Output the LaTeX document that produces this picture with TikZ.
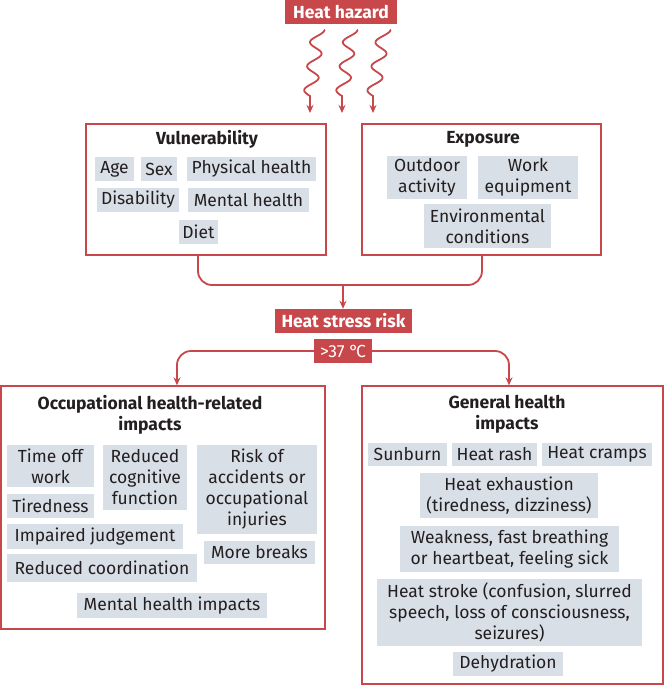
\documentclass[tikz,border=0pt]{standalone}
\usepackage{fontspec}
\setmainfont{Fira Sans}
\usetikzlibrary{arrows.meta,calc}
\definecolor{nred}{HTML}{C8474B}
\definecolor{tagc}{HTML}{D9DFE7}
\definecolor{txt}{HTML}{231F20}
\tikzset{
  tag/.style={fill=tagc, inner sep=0pt, align=center, text=txt, font=\fontsize{17.5}{21}\selectfont},
  bigbox/.style={draw=nred, line width=1.3pt, inner sep=0pt},
  title/.style={align=center, text=txt, font=\bfseries\fontsize{17.5}{21}\selectfont},
  redlab/.style={fill=nred, text=white, inner sep=0pt, font=\bfseries\fontsize{17.5}{20}\selectfont},
  redtemp/.style={fill=nred, text=white, inner sep=0pt, font=\fontsize{17.5}{20}\selectfont},
  conn/.style={draw=nred, line width=1.8pt, -{Stealth[length=8pt,width=7pt]}},
  link/.style={draw=nred, line width=1.8pt},
}
\begin{document}
\begin{tikzpicture}[x=1pt,y=-1pt]
\useasboundingbox (0,0) rectangle (664,685);

% top
\node[redlab, minimum width=112, minimum height=24] (hh) at (341,12) {Heat hazard};
\foreach \xa/\xb [count=\i] in {318/310, 351/342, 384/373}{
  \coordinate (w\i) at (\xb,113);
  \draw[conn, line cap=round] plot[domain=0:66, samples=90, smooth]
     ({\xa + (\xb-\xa)*\x/66 + 6.5*cos(15*\x)}, {30+\x}) -- (w\i);
}

% big boxes
\node[bigbox, minimum width=240, minimum height=131] (vul) at (206,189.5) {};
\node[bigbox, minimum width=239, minimum height=131] (exp) at (481.5,189.5) {};
\node[bigbox, minimum width=324, minimum height=243] (occ) at (163,507.5) {};
\node[bigbox, minimum width=301, minimum height=298] (gen) at (512.5,535) {};

% titles
\node[title] (tv) at (207,139) {Vulnerability};
\node[title] (te) at (483,139) {Exposure};
\node[title] (to) at (150,414.5) {Occupational health-related\\impacts};
\node[title] (tg) at (507,414.5) {General health\\impacts};

% vulnerability tags
\node[tag, minimum width=39, minimum height=24] (age) at (114.5,169) {Age};
\node[tag, minimum width=36, minimum height=24] (sex) at (159,169) {Sex};
\node[tag, minimum width=129, minimum height=24] (phys) at (251.5,169) {Physical health};
\node[tag, minimum width=82, minimum height=24] (dis) at (138,200) {Disability};
\node[tag, minimum width=121, minimum height=24] (mh) at (248.5,200) {Mental health};
\node[tag, minimum width=39, minimum height=24] (diet) at (198.5,232) {Diet};

% exposure tags
\node[tag, minimum width=80, minimum height=43] (out) at (427,177.5) {Outdoor\\activity};
\node[tag, minimum width=100, minimum height=43] (work) at (528,177.5) {Work\\equipment};
\node[tag, minimum width=127, minimum height=44] (env) at (487.5,226) {Environmental\\conditions};

% occupational tags
\node[tag, minimum width=87, minimum height=42] (toff) at (50.5,466) {Time off\\work};
\node[tag, minimum width=84, minimum height=65] (cog) at (145,477.5) {Reduced\\cognitive\\function};
\node[tag, minimum width=120, minimum height=89] (risk) at (257,489.5) {Risk of\\accidents or\\occupational\\injuries};
\node[tag, minimum width=87, minimum height=24] (tired) at (50.5,506) {Tiredness};
\node[tag, minimum width=176, minimum height=25] (imp) at (95,536.5) {Impaired judgement};
\node[tag, minimum width=111, minimum height=23] (brk) at (259.5,552.5) {More breaks};
\node[tag, minimum width=190, minimum height=28] (coord) at (102,568) {Reduced coordination};
\node[tag, minimum width=190, minimum height=25] (mhi) at (172,605.5) {Mental health impacts};

% general tags
\node[tag, minimum width=79, minimum height=23] (sun) at (407.5,454.5) {Sunburn};
\node[tag, minimum width=85, minimum height=23] (rash) at (494.5,454.5) {Heat rash};
\node[tag, minimum width=110, minimum height=23] (cramp) at (597,454.5) {Heat cramps};
\node[tag, minimum width=178, minimum height=45] (exh) at (509,495.5) {Heat exhaustion\\(tiredness, dizziness)};
\node[tag, minimum width=219, minimum height=46] (weak) at (509.5,549) {Weakness, fast breathing\\or heartbeat, feeling sick};
\node[tag, minimum width=265, minimum height=67] (stroke) at (509.5,612.5) {Heat stroke (confusion, slurred\\speech, loss of consciousness,\\seizures)};
\node[tag, minimum width=110, minimum height=24] (dehy) at (508,664) {Dehydration};

% merge connector
\coordinate (j1) at (198,285);
\coordinate (j2) at (482,285);
\coordinate (jm) at (343,285);
\draw[link, rounded corners=14] (vul.south -| j1) -- (j1) -- (j2) -- (exp.south -| j2);

% heat stress risk
\node[redlab, minimum width=137, minimum height=24] (hsr) at (343.5,321) {Heat stress risk};
\draw[conn] (jm) -- (jm |- hsr.north);

% branch
\coordinate (b1) at (177,351);
\coordinate (b2) at (509,351);
\draw[conn, rounded corners=14] (343,351) -- (b1) -- (b1 |- occ.north);
\draw[conn, rounded corners=14] (343,351) -- (b2) -- (b2 |- gen.north);
\node[redtemp, minimum width=58, minimum height=24] (t37) at (343,351) {>37 °\kern-2.5pt C};
\end{tikzpicture}
\end{document}
